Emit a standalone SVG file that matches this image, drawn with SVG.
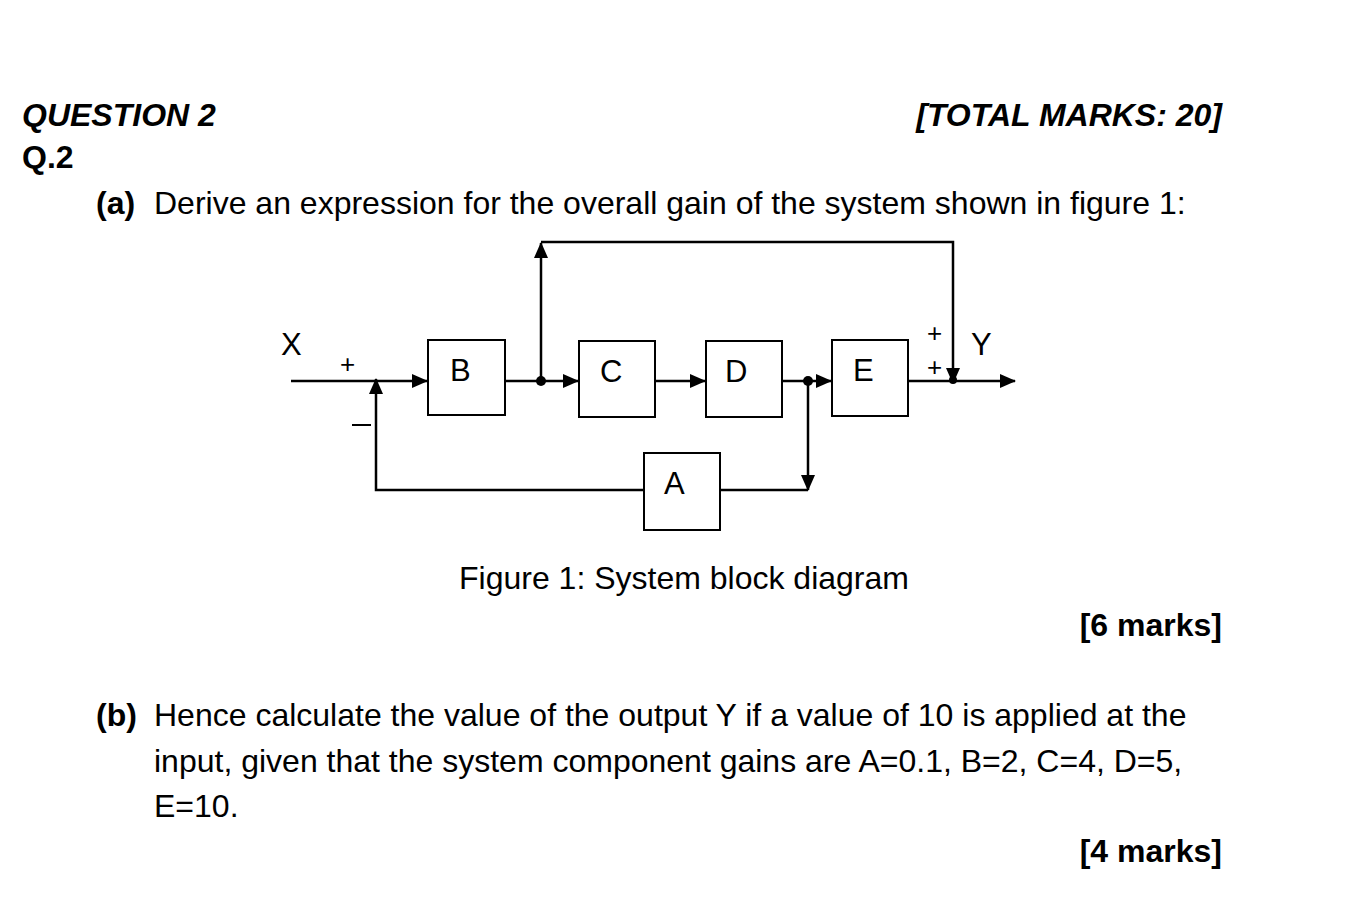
<svg xmlns="http://www.w3.org/2000/svg" width="1368" height="906" viewBox="0 0 1368 906">
<defs><marker id="ar" markerWidth="16" markerHeight="14" refX="15" refY="7" orient="auto" markerUnits="userSpaceOnUse"><path d="M0,0 L16,7 L0,14 Z" fill="#000"/></marker></defs>
<style>
text{font-family:"Liberation Sans",Arial,sans-serif;fill:#000}
.t{font-size:32px}.b{font-weight:bold}
.l{font-size:31px}.s{font-size:26px}
rect{fill:#fff;stroke:#000;stroke-width:2}
.c path,.c line{stroke:#000;stroke-width:2.5;fill:none}
</style>
<rect x="0" y="0" width="1368" height="906" style="stroke:none"/>
<text x="22" y="126" class="t b" font-style="italic">QUESTION 2</text>
<text x="1222" y="126" class="t b" font-style="italic" text-anchor="end">[TOTAL MARKS: 20]</text>
<text x="22" y="168" class="t b">Q.2</text>
<text x="96" y="214" class="t"><tspan class="b">(a)</tspan><tspan x="154">Derive an expression for the overall gain of the system shown in figure 1:</tspan></text>
<g class="c">
<path d="M291,381 H427" marker-end="url(#ar)"/>
<path d="M505,381 H578" marker-end="url(#ar)"/>
<path d="M655,381 H705" marker-end="url(#ar)"/>
<path d="M782,381 H831" marker-end="url(#ar)"/>
<path d="M908,381 H1015" marker-end="url(#ar)"/>
<path d="M541,381 V243" marker-end="url(#ar)"/>
<path d="M541,242 H953 V383" marker-end="url(#ar)"/>
<path d="M808,381 V490" marker-end="url(#ar)"/>
<path d="M720,490 H808"/>
<path d="M644,490 H376 V379" marker-end="url(#ar)"/>
<circle cx="541" cy="381" r="5" fill="#000"/>
<circle cx="808" cy="381" r="5" fill="#000"/>
<circle cx="953" cy="380" r="4" fill="#000"/>
</g>
<g id="B"><rect x="428" y="340" width="77" height="75"/><text x="450" y="381" class="l">B</text></g>
<g id="C"><rect x="579" y="341" width="76" height="76"/><text x="600" y="382" class="l">C</text></g>
<g id="D"><rect x="706" y="341" width="76" height="76"/><text x="725" y="382" class="l">D</text></g>
<g id="E"><rect x="832" y="340" width="76" height="76"/><text x="853" y="381" class="l">E</text></g>
<g id="A"><rect x="644" y="453" width="76" height="77"/><text x="664" y="494" class="l">A</text></g>
<text x="281" y="355" class="l">X</text>
<text x="971" y="355" class="l">Y</text>
<text x="340" y="373" class="s">+</text>
<text x="927" y="342" class="s">+</text>
<text x="927" y="376" class="s">+</text>
<line x1="352" y1="425" x2="371" y2="425" stroke="#000" stroke-width="2"/>
<text x="684" y="589" class="t" text-anchor="middle">Figure 1: System block diagram</text>
<text x="1222" y="636" class="t b" text-anchor="end">[6 marks]</text>
<text x="96" y="726" class="t"><tspan class="b">(b)</tspan><tspan x="154">Hence calculate the value of the output Y if a value of 10 is applied at the</tspan></text>
<text x="154" y="772" class="t">input, given that the system component gains are A=0.1, B=2, C=4, D=5,</text>
<text x="154" y="817" class="t">E=10.</text>
<text x="1222" y="862" class="t b" text-anchor="end">[4 marks]</text>
</svg>
